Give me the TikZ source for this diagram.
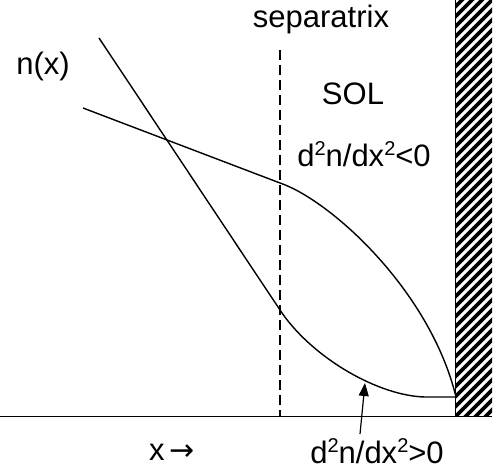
\documentclass[tikz,border=0pt]{standalone}
\usepackage{fontspec}
\setmainfont{Liberation Sans}
\newfontfamily\arrowfont{DejaVu Sans}
\usetikzlibrary{arrows.meta}
\newcommand{\sqr}{\raisebox{11pt}{\fontsize{20}{20}\selectfont 2}}
\begin{document}
\begin{tikzpicture}[x=1pt,y=-1pt,
  curve/.style={line width=1.4pt},
  lbl/.style={inner sep=0pt,anchor=base,font=\fontsize{31}{34}\selectfont},
  hatchline/.style={line width=3.6pt}]
\useasboundingbox (0,0) rectangle (500,470);
% wall
\begin{scope}
  \clip (455.5,0) rectangle (492,416.5);
  \foreach \k in {-50,-40,...,430} {
    \draw[hatchline] (450,\k+42) -- (497,\k-5);
  }
\end{scope}
\draw[line width=0.6pt] (455.5,0) -- (455.5,416.5);
% axis line
\coordinate (ax0) at (0,416.5);
\coordinate (ax1) at (492,416.5);
\draw[curve] (ax0) -- (ax1);
% separatrix
\coordinate (s0) at (280,50);
\coordinate (s1) at (280,416);
\draw[line width=1.2pt,dash pattern=on 10pt off 5pt] (s0) -- (s1);
% steep profile
\coordinate (a0) at (99,38);
\coordinate (a1) at (282,313);
\coordinate (a2) at (425,397);
\coordinate (w) at (456,397);
\draw[curve] (a0) -- (a1) .. controls (315,360) and (380,396) .. (a2) -- (w);
% shallow profile
\coordinate (b0) at (83,108);
\coordinate (b1) at (280,183);
\draw[curve] (b0) -- (b1) .. controls (330,200) and (430,290) .. (w);
% arrow
\coordinate (ar0) at (360,434);
\coordinate (ar1) at (365,383);
\draw[line width=1.2pt,-{Triangle[length=13pt,width=10pt]}] (ar0) -- (ar1);
% labels
\node[lbl] (nx) at (43,75) {n(x)};
\node[lbl] (sep) at (321,28) {separatrix};
\node[lbl] (sol) at (353,105) {SOL};
\node[lbl] (neg) at (364,167) {d\sqr n/dx\sqr<0};
\node[lbl] (xa) at (172,460) {x\,{\arrowfont\fontsize{30}{30}\selectfont →}};
\node[lbl] (pos) at (377,463) {d\sqr n/dx\sqr>0};
\end{tikzpicture}
\end{document}
